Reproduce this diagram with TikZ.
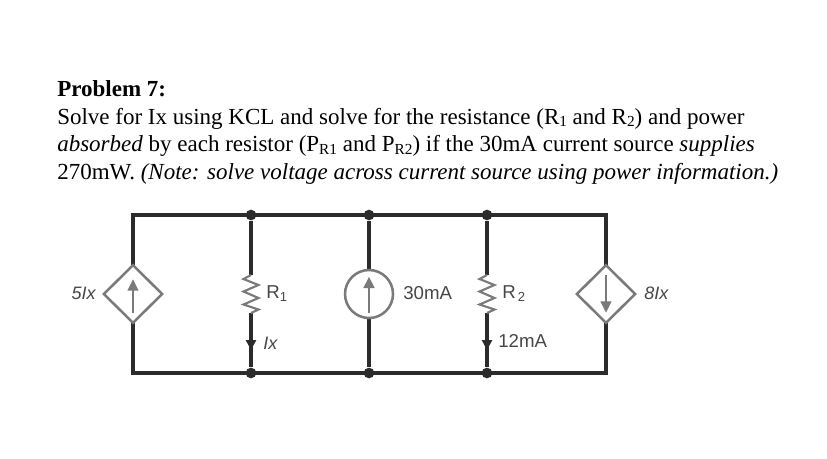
\documentclass[tikz,border=0pt]{standalone}
\usepackage{fontspec}
\setmainfont{Liberation Serif}
\setsansfont{Liberation Sans}
\usepackage{xcolor}
\usetikzlibrary{arrows.meta,shapes.geometric}
\definecolor{wirecol}{HTML}{2B2B2B}
\definecolor{partcol}{HTML}{7A7A7A}
\definecolor{labelcol}{HTML}{474747}
\newcommand{\lowsub}[1]{\raisebox{-0.12em}{\fontsize{11.5}{12}\selectfont #1}}
\tikzset{
    wire/.style={draw=wirecol,line width=2.28pt},
    part/.style={draw=partcol,line width=1.9pt},
    junction/.style={circle,fill=wirecol,inner sep=0pt,minimum size=8pt},
    srcdiamond/.style={part,inner sep=0pt,shape=diamond,minimum width=44.5pt,minimum height=44pt,fill=white},
    srccircle/.style={part,circle,inner sep=0pt,minimum size=36pt,fill=white},
    srcarrow/.style={draw=partcol,line width=1.7pt,-{Triangle[length=8.5pt,width=8pt]}},
    flowarrow/.style={wire,-{Triangle[length=7.5pt,width=7.5pt]}},
    cktlabel/.style={text=labelcol,font=\sffamily\fontsize{14}{16}\selectfont,inner sep=0pt},
    ixlabel/.style={cktlabel,font=\sffamily\itshape\fontsize{13.5}{16}\selectfont}
}
\begin{document}
\begin{tikzpicture}[x=0.75pt,y=-0.75pt]
        \useasboundingbox (0,0) rectangle (827,458);
        % Problem text
        \node[anchor=north west,inner sep=0pt,align=left,font=\fontsize{17.25}{20.6}\selectfont] (problem) at (57,80.5)
            {\textbf{Problem 7:}\\
             Solve for Ix using KCL and solve for the resistance (R\lowsub{1} and R\lowsub{2}) and power\\
             \textit{absorbed} by each resistor (P\lowsub{R1} and P\lowsub{R2}) if the 30mA current source \textit{supplies}\\
             270mW. \textit{(Note: solve voltage across current source using power information.)}};
        % Corners and junctions
        \coordinate (tl) at (133,215);
        \coordinate (bl) at (133,373);
        \coordinate (tr) at (606,215);
        \coordinate (br) at (606,373);
        \node[junction] (t1) at (251,215) {};
        \node[junction] (t2) at (369,215) {};
        \node[junction] (t3) at (487,215) {};
        \node[junction] (b1) at (251,373) {};
        \node[junction] (b2) at (369,373) {};
        \node[junction] (b3) at (487,373) {};
        % Outer loop
        \draw[wire,line join=miter] (tl) -- (tr) -- (br) -- (bl) -- cycle;
        % Branches
        \coordinate (r1top) at (251,275);
        \coordinate (r1bot) at (251,313);
        \coordinate (r2top) at (487,275);
        \coordinate (r2bot) at (487,313);
        \draw[wire] (t1) -- (r1top);
        \draw[wire] (t3) -- (r2top);
        \draw[wire] (t2) -- (b2);
        \draw[wire] (r1bot) -- (b1);
        \draw[wire] (r2bot) -- (b3);
        \coordinate (a1) at (251,350);
        \coordinate (a2) at (487,350);
        \draw[flowarrow] (r1bot) -- (a1);
        \draw[flowarrow] (r2bot) -- (a2);
        % Resistors
        \foreach \r in {r1,r2}
            \draw[part,line width=1.6pt] (\r top) -- ++(-7.5,4) -- ++(15,6) -- ++(-15,6.5) -- ++(15,6.5) -- ++(-15,6.5) -- ++(15,5) -- (\r bot);
        % Sources
        \node[srcdiamond] (src5) at (133,294) {};
        \node[srcdiamond] (src8) at (606,294) {};
        \node[srccircle] (src30) at (369,294) {};
        \draw[srcarrow] ([yshift=-14pt]src5.center) -- ([yshift=11pt]src5.center);
        \draw[srcarrow] ([yshift=14pt]src8.center) -- ([yshift=-14pt]src8.center);
        \draw[srcarrow] ([yshift=-14pt]src30.center) -- ([yshift=13pt]src30.center);
        % Labels
        \node[ixlabel,anchor=east] (l5) at (96,293) {5Ix};
        \node[ixlabel,anchor=west] (l8) at (644,293) {8Ix};
        \node[cktlabel,anchor=west] (lr1) at (266,294) {R\textsubscript{1}};
        \node[cktlabel,anchor=west] (lr2) at (502,294) {R\textsubscript{\,2}};
        \node[cktlabel,anchor=west] (l30) at (403,293) {30mA};
        \node[ixlabel,anchor=west] (lx) at (263,343) {Ix};
        \node[cktlabel,anchor=west] (l12) at (498,341) {12mA};
    \end{tikzpicture}
\end{document}
